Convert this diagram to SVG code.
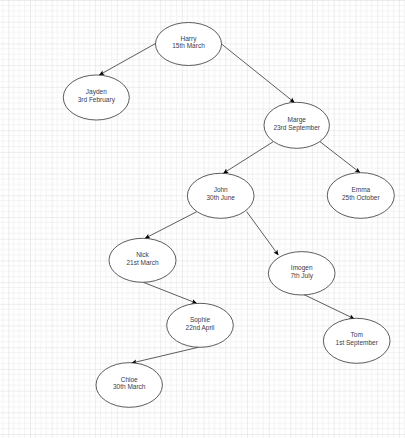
<svg xmlns="http://www.w3.org/2000/svg" width="405" height="438" viewBox="0 0 405 438">
<defs>
<pattern id="grid" patternUnits="userSpaceOnUse" x="8.3" y="0" width="21.7" height="21.7">
<path d="M5.425 0V21.7M10.85 0V21.7M16.275 0V21.7M0 5.425H21.7M0 10.85H21.7M0 16.275H21.7" stroke="#f3f3f3" stroke-width="1" fill="none"/>
<path d="M0 0V21.7M0 0H21.7" stroke="#dcdcdc" stroke-width="1" fill="none"/>
</pattern>
<marker id="arr" markerUnits="userSpaceOnUse" markerWidth="6" markerHeight="6" viewBox="0 0 6 6" refX="5.2" refY="3" orient="auto">
<path d="M0.2 0.6L5.4 3L0.2 5.4L1.4 3Z" fill="#000"/>
</marker>
</defs>
<style>
.n ellipse{fill:#fff;stroke:#333;stroke-width:0.8}
.n text{font-family:"Liberation Sans",Arial,sans-serif;font-size:6.5px;fill:#3a3a4a;text-anchor:middle}
#edges line{stroke:#333;stroke-width:0.8;marker-end:url(#arr)}
</style>
<rect width="405" height="438" fill="#fff"/>
<rect width="405" height="438" fill="url(#grid)"/>
<g id="edges">
<line x1="155.5" y1="43.5" x2="99.3" y2="75"/>
<line x1="221.5" y1="44" x2="294.5" y2="102.5"/>
<line x1="273.3" y1="141.7" x2="223.3" y2="173.3"/>
<line x1="320" y1="141.7" x2="360" y2="172.7"/>
<line x1="196.7" y1="211.7" x2="145" y2="238.3"/>
<line x1="246.7" y1="211.7" x2="278.3" y2="255"/>
<line x1="143.3" y1="282.3" x2="196.7" y2="303.3"/>
<line x1="198.3" y1="347.3" x2="131.7" y2="363"/>
<line x1="303.3" y1="294.3" x2="354.3" y2="318.8"/>
</g>
<g id="harry" class="n"><ellipse cx="188.5" cy="44" rx="33" ry="21.5"/><text x="188.5" y="40.5">Harry</text><text x="188.5" y="48.3">15th March</text></g>
<g id="jayden" class="n"><ellipse cx="96.3" cy="97.5" rx="33" ry="22.5"/><text x="96.3" y="94">Jayden</text><text x="96.3" y="101.8">3rd February</text></g>
<g id="marge" class="n"><ellipse cx="296.7" cy="125.3" rx="32.7" ry="23"/><text x="296.7" y="121.8">Marge</text><text x="296.7" y="129.6">23rd September</text></g>
<g id="john" class="n"><ellipse cx="220.7" cy="195.8" rx="33.3" ry="22.5"/><text x="220.7" y="192.3">John</text><text x="220.7" y="200.1">30th June</text></g>
<g id="emma" class="n"><ellipse cx="360.8" cy="195.5" rx="33.5" ry="22.8"/><text x="360.8" y="192">Emma</text><text x="360.8" y="199.8">25th October</text></g>
<g id="nick" class="n"><ellipse cx="142.5" cy="260.3" rx="33.5" ry="22"/><text x="142.5" y="256.8">Nick</text><text x="142.5" y="264.6">21st March</text></g>
<g id="imogen" class="n"><ellipse cx="301.7" cy="273.3" rx="33.3" ry="21.7"/><text x="301.7" y="269.8">Imogen</text><text x="301.7" y="277.6">7th July</text></g>
<g id="sophie" class="n"><ellipse cx="200" cy="325.3" rx="33.3" ry="22"/><text x="200" y="321.8">Sophie</text><text x="200" y="329.6">22nd April</text></g>
<g id="tom" class="n"><ellipse cx="356.7" cy="340.8" rx="33.3" ry="22.5"/><text x="356.7" y="337.3">Tom</text><text x="356.7" y="345.1">1st September</text></g>
<g id="chloe" class="n"><ellipse cx="129.2" cy="385" rx="33.2" ry="22.3"/><text x="129.2" y="381.5">Chloe</text><text x="129.2" y="389.3">30th March</text></g>
</svg>
